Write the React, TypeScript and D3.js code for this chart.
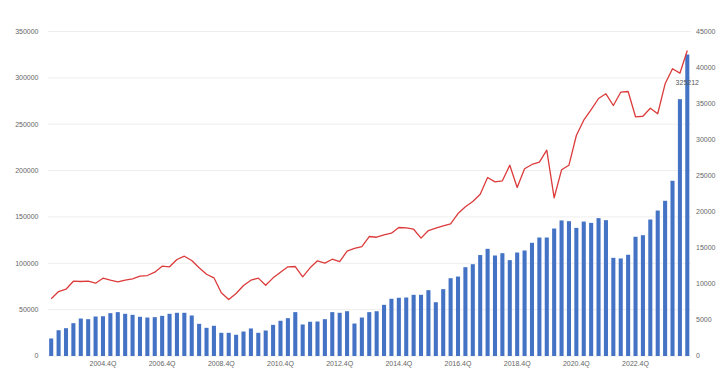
import React from "react";
import * as d3 from "d3";

// quarters 2003.1Q .. 2024.3Q
const quarters: string[] = [];
for (let y = 2003; y <= 2024; y++) {
  for (let q = 1; q <= 4; q++) {
    if (y === 2024 && q > 3) break;
    quarters.push(`${y}.${q}Q`);
  }
}

const tickLabels = [
  "2004.4Q", "2006.4Q", "2008.4Q", "2010.4Q", "2012.4Q",
  "2014.4Q", "2016.4Q", "2018.4Q", "2020.4Q", "2022.4Q",
];

// bars, left axis
const barValues = [
  18900, 27800, 30000, 35400, 40400, 39700, 42600, 42900, 46200, 47300,
  45500, 44400, 42300, 41500, 41900, 43300, 45500, 46600, 46600, 43700,
  34700, 30400, 32600, 25000, 25000, 22900, 26400, 29700, 25000, 27500,
  33600, 38000, 40800, 47300, 34000, 36900, 37200, 39700, 47300, 46600,
  48300, 35000, 41500, 47300, 48300, 55200, 61700, 62800, 63100, 66000,
  66000, 71000, 58000, 72100, 83900, 85700, 95800, 99000, 108900, 115600,
  108400, 110900, 103400, 111600, 113800, 122100, 127800, 127800, 137500, 146200,
  145400, 138200, 145000, 143600, 148700, 146500, 105900, 105200, 109200, 128600,
  130300, 147200, 156900, 167400, 189000, 277000, 325212,
];

// line, right axis
const lineValues = [
  7930, 8940, 9260, 10370, 10330, 10370, 10100, 10790, 10510, 10290,
  10510, 10700, 11070, 11160, 11620, 12450, 12370, 13380, 13840, 13240,
  12230, 11340, 10840, 8760, 7830, 8670, 9780, 10510, 10800, 9800,
  10840, 11620, 12370, 12410, 10980, 12230, 13200, 12870, 13420, 13100,
  14530, 14910, 15180, 16570, 16470, 16800, 17030, 17820, 17780, 17580,
  16340, 17400, 17720, 18050, 18330, 19760, 20690, 21420, 22420, 24750,
  24150, 24290, 26460, 23370, 25960, 26560, 26880, 28540, 21940, 25820,
  26460, 30580, 32700, 34180, 35710, 36360, 34740, 36580, 36680, 33170,
  33250, 34360, 33590, 37750, 39830, 39220, 42360,
];

const leftTicks = [0, 50000, 100000, 150000, 200000, 250000, 300000, 350000];
const rightTicks = [0, 5000, 10000, 15000, 20000, 25000, 30000, 35000, 40000, 45000];

export default function App() {
  const width = 728;
  const height = 375;
  const margin = { top: 31.5, right: 37, bottom: 19, left: 47.5 };
  const x0 = margin.left;
  const x1 = width - margin.right;
  const y0 = height - margin.bottom;
  const y1 = margin.top;

  const x = d3.scaleBand<string>().domain(quarters).range([x0, x1]).paddingInner(0.45).paddingOuter(0.225);
  const yL = d3.scaleLinear().domain([0, 350000]).range([y0, y1]);
  const yR = d3.scaleLinear().domain([0, 45000]).range([y0, y1]);

  const cx = (i: number) => (x(quarters[i]) as number) + x.bandwidth() / 2;

  const line = d3
    .line<number>()
    .x((_, i) => cx(i))
    .y((d) => yR(d));

  const font = "sans-serif";
  const labelColor = "#666666";
  const last = barValues.length - 1;

  return (
    <svg
      width={width}
      height={height}
      style={{ position: "absolute", left: 0, top: 0, background: "#fff" }}
    >
      {/* grid */}
      {leftTicks.map((t) => (
        <line key={t} x1={x0} x2={x1} y1={yL(t)} y2={yL(t)} stroke="#eeeeee" strokeWidth={1} />
      ))}
      {/* left axis labels */}
      {leftTicks.map((t) => (
        <text key={"l" + t} x={x0 - 9} y={yL(t)} dy="0.35em" textAnchor="end" fontSize={7} fill={labelColor} fontFamily={font}>
          {t}
        </text>
      ))}
      {/* right axis labels */}
      {rightTicks.map((t) => (
        <text key={"r" + t} x={x1 + 5} y={yR(t)} dy="0.35em" textAnchor="start" fontSize={7} fill={labelColor} fontFamily={font}>
          {t}
        </text>
      ))}
      {/* x labels */}
      {tickLabels.map((t) => (
        <text key={t} x={(x(t) as number) + x.bandwidth() / 2} y={y0 + 10} textAnchor="middle" fontSize={7} fill={labelColor} fontFamily={font}>
          {t}
        </text>
      ))}
      {/* bars */}
      {barValues.map((v, i) => (
        <rect key={i} x={x(quarters[i])} y={yL(v)} width={x.bandwidth()} height={y0 - yL(v)} fill="#4472c4" />
      ))}
      {/* line */}
      <path d={line(lineValues) || ""} fill="none" stroke="#dc3b3b" strokeWidth={1.3} strokeLinejoin="round" />
      {/* last bar label */}
      <text x={cx(last)} y={yL(barValues[last]) + 28} dy="0.35em" textAnchor="middle" fontSize={7} fill="#555" fontFamily={font}>
        {barValues[last]}
      </text>
    </svg>
  );
}
